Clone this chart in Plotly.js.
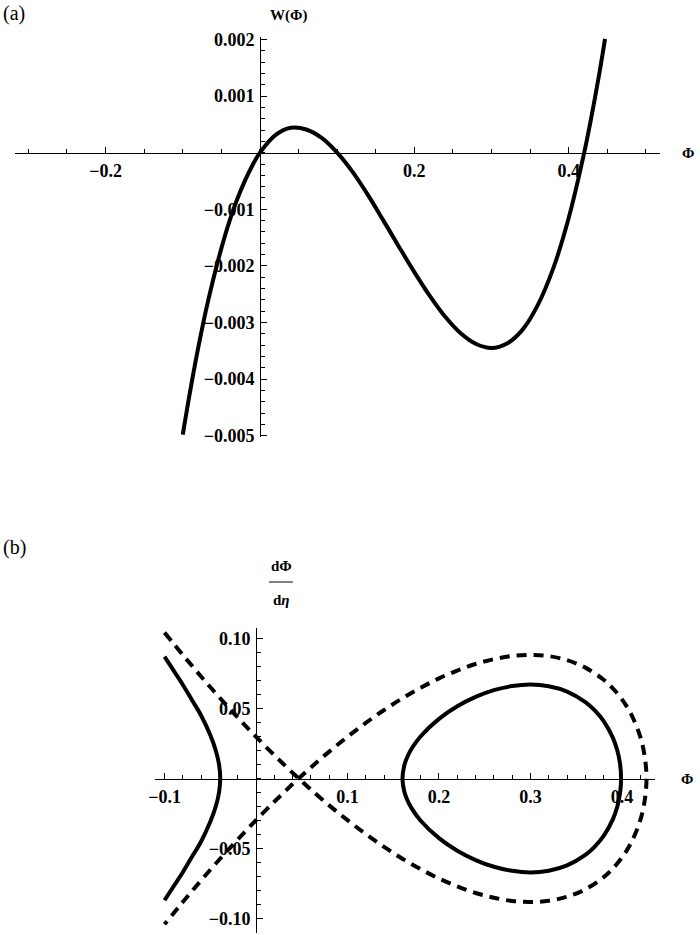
<!DOCTYPE html>
<html>
<head>
<meta charset="utf-8">
<script src="https://cdn.plot.ly/plotly-3.0.1.min.js"></script>
<style>html,body{margin:0;padding:0;background:#fff;}#chart{width:700px;height:935px;}</style>
</head>
<body>
<div id="chart"></div>
<script>
// ---------- Panel (a): W(Phi) ----------
const phiA = [-0.10, -0.09, -0.08, -0.07, -0.06, -0.05, -0.04, -0.03, -0.02, -0.01, 0.00, 0.02, 0.04, 0.06, 0.08, 0.10, 0.12, 0.14, 0.16, 0.18, 0.20, 0.22, 0.24, 0.26, 0.28, 0.30, 0.32, 0.34, 0.36, 0.38, 0.40, 0.42, 0.43, 0.44, 0.447];
const wA   = [-0.00498, -0.00418, -0.00345, -0.00279, -0.00221, -0.00169, -0.00123, -0.00084, -0.00051, -0.00023, 0.0, 0.00031, 0.00044, 0.00041, 0.00026, 0.0, -0.00034, -0.00075, -0.00120, -0.00166, -0.00211, -0.00253, -0.00290, -0.00319, -0.00338, -0.00345, -0.00337, -0.00313, -0.00269, -0.00204, -0.00115, 0.0, 0.00068, 0.00143, 0.00201];

const aXTicks = [-0.2, 0.2, 0.4];
const aXText  = ['\u22120.2', '0.2', '0.4'];
const aYTicks = [-0.005, -0.004, -0.003, -0.002, -0.001, 0.001, 0.002];
const aYText  = ['\u22120.005', '\u22120.004', '\u22120.003', '\u22120.002', '\u22120.001', '0.001', '0.002'];

// ---------- Panel (b): phase portrait ----------
// left open solid branch
const phiL = [-0.100, -0.090, -0.080, -0.070, -0.060, -0.050, -0.044, -0.0404, -0.0391, -0.0404, -0.044, -0.050, -0.060, -0.070, -0.080, -0.090, -0.100];
const dL   = [0.087, 0.077, 0.067, 0.056, 0.045, 0.031, 0.020, 0.010, 0.0, -0.010, -0.020, -0.031, -0.045, -0.056, -0.067, -0.077, -0.087];
// closed solid orbit
const phiO = [0.1601, 0.162, 0.165, 0.17, 0.18, 0.20, 0.22, 0.24, 0.26, 0.28, 0.30, 0.32, 0.34, 0.36, 0.37, 0.38, 0.39, 0.395, 0.398, 0.399,
              0.398, 0.395, 0.39, 0.38, 0.37, 0.36, 0.34, 0.32, 0.30, 0.28, 0.26, 0.24, 0.22, 0.20, 0.18, 0.17, 0.165, 0.162, 0.1601];
const dO   = [0.0, 0.0091, 0.0148, 0.0212, 0.0302, 0.0426, 0.0516, 0.0583, 0.0631, 0.0660, 0.0671, 0.0659, 0.0621, 0.0546, 0.0488, 0.0410, 0.0292, 0.0198, 0.0100, 0.0,
              -0.0100, -0.0198, -0.0292, -0.0410, -0.0488, -0.0546, -0.0621, -0.0659, -0.0671, -0.0660, -0.0631, -0.0583, -0.0516, -0.0426, -0.0302, -0.0212, -0.0148, -0.0091, 0.0];
// dashed separatrix
const phiS = [-0.10, -0.08, -0.06, -0.04, -0.02, 0.00, 0.02, 0.03, 0.04, 0.0467,
              0.06, 0.08, 0.10, 0.12, 0.14, 0.16, 0.18, 0.20, 0.22, 0.24, 0.26, 0.28, 0.30, 0.32, 0.34, 0.36, 0.38, 0.39, 0.40, 0.41, 0.42, 0.425, 0.4268,
              0.425, 0.42, 0.41, 0.40, 0.39, 0.38, 0.36, 0.34, 0.32, 0.30, 0.28, 0.26, 0.24, 0.22, 0.20, 0.18, 0.16, 0.14, 0.12, 0.10, 0.08, 0.06,
              0.0467, 0.04, 0.03, 0.02, 0.00, -0.02, -0.04, -0.06, -0.08, -0.10];
const dS   = [0.1042, 0.0883, 0.0728, 0.0579, 0.0436, 0.0298, 0.0166, 0.0103, 0.0040, 0.0,
              -0.0079, -0.0192, -0.0298, -0.0397, -0.0489, -0.0573, -0.0648, -0.0715, -0.0771, -0.0818, -0.0852, -0.0875, -0.0882, -0.0874, -0.0845, -0.0792, -0.0705, -0.0643, -0.0565, -0.0459, -0.0298, -0.0151, 0.0,
              0.0151, 0.0298, 0.0459, 0.0565, 0.0643, 0.0705, 0.0792, 0.0845, 0.0874, 0.0882, 0.0875, 0.0852, 0.0818, 0.0771, 0.0715, 0.0648, 0.0573, 0.0489, 0.0397, 0.0298, 0.0192, 0.0079,
              0.0, -0.0040, -0.0103, -0.0166, -0.0298, -0.0436, -0.0579, -0.0728, -0.0883, -0.1042];

const bXTicks = [-0.1, 0.1, 0.2, 0.3, 0.4];
const bXText  = ['\u22120.1', '0.1', '0.2', '0.3', '0.4'];
const bYTicks = [-0.10, -0.05, 0.05, 0.10];
const bYText  = ['\u22120.10', '\u22120.05', '0.05', '0.10'];

// ---------- helpers (pixel -> paper) ----------
const W = 700, H = 935;
const px = x => x / W;
const py = y => 1 - y / H;

const serif = 'Liberation Serif, Times New Roman, serif';
const tickFont = {family: serif, size: 18, color: '#000', weight: 700};

function axisBase(extra) {
  return Object.assign({
    showline: true, linecolor: '#000', linewidth: 1,
    showgrid: false, zeroline: false,
    ticks: 'inside', ticklen: 6, tickwidth: 1, tickcolor: '#000',
    tickmode: 'array',
    tickfont: tickFont,
    layer: 'below traces',
    fixedrange: true,
    anchor: 'free'
  }, extra);
}

const lineStyle = {color: '#000', width: 4, shape: 'spline', smoothing: 1};

const traces = [
  {x: phiA, y: wA, xaxis: 'x', yaxis: 'y', mode: 'lines', line: lineStyle, hoverinfo: 'skip'},
  {x: phiL, y: dL, xaxis: 'x2', yaxis: 'y2', mode: 'lines', line: lineStyle, hoverinfo: 'skip'},
  {x: phiO, y: dO, xaxis: 'x2', yaxis: 'y2', mode: 'lines', line: lineStyle, hoverinfo: 'skip'},
  {x: phiS, y: dS, xaxis: 'x2', yaxis: 'y2', mode: 'lines',
   line: Object.assign({}, lineStyle, {dash: '10px,7px'}), hoverinfo: 'skip'}
];

const layout = {
  width: W, height: H,
  margin: {l: 0, r: 0, t: 0, b: 0},
  paper_bgcolor: '#fff', plot_bgcolor: 'rgba(0,0,0,0)',
  showlegend: false,
  xaxis: axisBase({
    domain: [px(15), px(660)], range: [-0.3173, 0.5182],
    position: py(152.7), side: 'bottom',
    tickvals: aXTicks, ticktext: aXText, ticklabelstandoff: 2,
    minor: {tickmode: 'linear', tick0: 0, dtick: 0.05, ticks: 'inside', ticklen: 3.5, tickwidth: 1, tickcolor: '#000'}
  }),
  yaxis: axisBase({
    domain: [py(437), py(37)], range: [-0.005023, 0.002044],
    position: px(260), side: 'left',
    tickvals: aYTicks, ticktext: aYText, ticklabelstandoff: 2,
    minor: {tickmode: 'linear', tick0: 0, dtick: 0.0002, ticks: 'inside', ticklen: 3.5, tickwidth: 1, tickcolor: '#000'}
  }),
  xaxis2: axisBase({
    domain: [px(155), px(655)], range: [-0.1104, 0.4361],
    position: py(778.5), side: 'bottom',
    tickvals: bXTicks, ticktext: bXText, ticklabelstandoff: 2,
    minor: {tickmode: 'linear', tick0: 0, dtick: 0.02, ticks: 'inside', ticklen: 3.5, tickwidth: 1, tickcolor: '#000'}
  }),
  yaxis2: axisBase({
    domain: [py(933), py(628)], range: [-0.1104, 0.1075],
    position: px(256), side: 'left',
    tickvals: bYTicks, ticktext: bYText, ticklabelstandoff: 2,
    minor: {tickmode: 'linear', tick0: 0, dtick: 0.01, ticks: 'inside', ticklen: 3.5, tickwidth: 1, tickcolor: '#000'}
  }),
  annotations: [
    {text: '(a)', xref: 'paper', yref: 'paper', x: px(1), y: py(13), xanchor: 'left', yanchor: 'middle', showarrow: false,
     font: {family: serif, size: 20, color: '#000'}},
    {text: '(b)', xref: 'paper', yref: 'paper', x: px(1), y: py(547), xanchor: 'left', yanchor: 'middle', showarrow: false,
     font: {family: serif, size: 20, color: '#000'}},
    {text: 'W(\u03A6)', xref: 'paper', yref: 'paper', x: px(268), y: py(16), xanchor: 'left', yanchor: 'middle', showarrow: false,
     font: {family: serif, size: 15, color: '#000', weight: 700}},
    {text: '\u03A6', xref: 'paper', yref: 'paper', x: px(688), y: py(153), xanchor: 'center', yanchor: 'middle', showarrow: false,
     font: {family: serif, size: 15, color: '#000', weight: 700}},
    {text: '\u03A6', xref: 'paper', yref: 'paper', x: px(687), y: py(779), xanchor: 'center', yanchor: 'middle', showarrow: false,
     font: {family: serif, size: 15, color: '#000', weight: 700}},
    {text: 'd\u03A6', xref: 'paper', yref: 'paper', x: px(281), y: py(566), xanchor: 'center', yanchor: 'middle', showarrow: false,
     font: {family: serif, size: 15, color: '#000', weight: 700}},
    {text: 'd<i>\u03B7</i>', xref: 'paper', yref: 'paper', x: px(281), y: py(600), xanchor: 'center', yanchor: 'middle', showarrow: false,
     font: {family: serif, size: 15, color: '#000', weight: 700}}
  ],
  shapes: [
    {type: 'line', xref: 'paper', yref: 'paper', x0: px(269), x1: px(293), y0: py(582), y1: py(582),
     line: {color: '#000', width: 1}}
  ]
};

Plotly.newPlot('chart', traces, layout, {staticPlot: true, displayModeBar: false});
</script>
</body>
</html>
